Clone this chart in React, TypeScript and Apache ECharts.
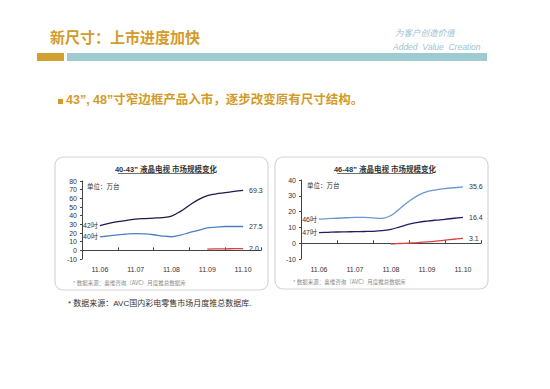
import React, { useEffect, useRef } from "react";
import * as echarts from "echarts";

// ---- data ----
const months = ["11.06", "11.07", "11.08", "11.09", "11.10"];
// weekly sample positions, in months from the left edge of the category axis
const weekPos = [0.5, 0.75, 1.0, 1.25, 1.5, 1.75, 2.0, 2.25, 2.5, 2.75, 3.0, 3.25, 3.5, 3.75, 4.0, 4.25, 4.5];

const s42 = [28.5, 31, 33, 34.5, 36, 36.7, 37.2, 37.8, 39.5, 45, 52, 58.5, 63, 65.2, 66.5, 68, 69.3];
const s40 = [15.5, 16.6, 17.8, 18.8, 19.3, 19, 18, 16.5, 15.7, 17.5, 20.5, 23, 25.8, 26.8, 27.5, 27.5, 27.5];
const s43 = [null, null, null, null, null, null, null, null, null, null, null, null, 1.5, 1.6, 1.7, 1.9, 2.0];

const s46 = [15.2, 15.5, 15.8, 16.1, 16.4, 16.4, 16.0, 15.7, 17.5, 22, 26.5, 30.3, 32.6, 33.8, 34.6, 35.1, 35.6];
const s47 = [6.7, 6.9, 7.1, 7.2, 7.3, 7.4, 7.5, 7.9, 8.8, 10.4, 12.0, 13.2, 14.0, 14.6, 15.1, 15.8, 16.4];
const s48 = [null, null, null, null, null, null, null, null, -0.5, -0.2, 0.1, 0.4, 0.8, 1.3, 1.9, 2.5, 3.1];

const leftTitle = "40-43” 液晶电视 市场规模变化";
const rightTitle = "46-48” 液晶电视 市场规模变化";
const unitText = "单位：万台";
const sourceText = "* 数据来源：奥维咨询（AVC）月度推总数据库";
const footText = "* 数据来源：AVC国内彩电零售市场月度推总数据库.";

const GOLD = "#D39B2A";
const FONT = "'Noto Sans CJK SC', 'Liberation Sans', sans-serif";
const MIXFONT = "'Liberation Sans', 'Noto Sans CJK SC', sans-serif";
const NUMFONT = "'Liberation Sans', 'DejaVu Sans', sans-serif";

function buildPairs(vals: (number | null)[], startLabel?: string) {
  const out: any[] = [];
  vals.forEach((v, i) => {
    if (v === null) return;
    const item: any = { value: [weekPos[i], v] };
    if (startLabel && out.length === 0) {
      item.label = {
        show: true,
        position: "left",
        distance: 2,
        formatter: startLabel,
        fontSize: 7,
        color: "#333",
        fontFamily: MIXFONT,
      };
    }
    out.push(item);
  });
  return out;
}

function lineSeries(name: string, vals: (number | null)[], color: string, xIdx: number, yIdx: number, startLabel?: string) {
  return {
    type: "line",
    name,
    xAxisIndex: xIdx,
    yAxisIndex: yIdx,
    data: buildPairs(vals, startLabel),
    smooth: 0.4,
    symbol: "circle",
    symbolSize: 0,
    showSymbol: true,
    lineStyle: { color, width: 1.3 },
    itemStyle: { color },
    emphasis: { disabled: true },
    endLabel: {
      show: true,
      distance: 6,
      fontSize: 7,
      color: "#333",
      fontFamily: NUMFONT,
      formatter: (p: any) => Number(p.value[1]).toFixed(1),
    },
    z: 3,
  };
}

function catAxis(gridIndex: number) {
  return {
    type: "category",
    gridIndex,
    data: months,
    boundaryGap: true,
    axisLine: { lineStyle: { color: "#444", width: 1 } },
    axisTick: { show: true, inside: true, length: 3, lineStyle: { color: "#444" } },
    axisLabel: { fontSize: 7, color: "#333", margin: 7, fontFamily: NUMFONT },
    splitLine: { show: false },
  };
}

function hiddenAxis(gridIndex: number) {
  return { type: "value", gridIndex, min: 0, max: 5, show: false };
}

function valAxis(gridIndex: number, min: number, max: number) {
  return {
    type: "value",
    gridIndex,
    min,
    max,
    interval: 10,
    axisLine: { show: true, lineStyle: { color: "#444", width: 1 } },
    axisTick: { show: true, length: 2, lineStyle: { color: "#444" } },
    axisLabel: { fontSize: 7, color: "#333", margin: 5, fontFamily: NUMFONT },
    splitLine: { show: false },
  };
}

export default function App() {
  const ref = useRef<HTMLDivElement>(null);
  useEffect(() => {
    if (!ref.current) return;
    const chart = echarts.init(ref.current, null, { renderer: "svg" });
    const option: any = {
      animation: false,
      backgroundColor: "#ffffff",
      grid: [
        { left: 82, top: 181, width: 179, height: 78 },
        { left: 301, top: 180, width: 180, height: 79 },
      ],
      xAxis: [catAxis(0), hiddenAxis(0), catAxis(1), hiddenAxis(1)],
      yAxis: [valAxis(0, -10, 80), valAxis(1, -10, 40)],
      series: [
        lineSeries("42吋", s42, "#1C1C48", 1, 0, "42吋"),
        lineSeries("40吋", s40, "#4E7EC4", 1, 0, "40吋"),
        lineSeries("43吋", s43, "#D9423F", 1, 0),
        lineSeries("46吋", s46, "#6A97D2", 3, 1, "46吋"),
        lineSeries("47吋", s47, "#1E2062", 3, 1, "47吋"),
        lineSeries("48吋", s48, "#D9423F", 3, 1),
      ],
      graphic: [
        // header
        {
          type: "text",
          left: 50,
          top: 29,
          style: { text: "新尺寸：上市进度加快", fontSize: 15, fontWeight: "bold", fill: GOLD, fontFamily: FONT },
        },
        {
          type: "text",
          left: 395,
          top: 28,
          style: { text: "为客户创造价值", fontSize: 8.5, fontStyle: "italic", fill: "#9CC3D1", fontFamily: FONT },
        },
        {
          type: "text",
          left: 393,
          top: 42,
          style: { text: "Added  Value  Creation", fontSize: 8.5, fontStyle: "italic", fill: "#9CC3D1", fontFamily: NUMFONT },
        },
        { type: "rect", shape: { x: 37, y: 53, width: 27, height: 8 }, style: { fill: "#D1A030" } },
        { type: "rect", shape: { x: 67, y: 53, width: 420, height: 8 }, style: { fill: "#9ECBD1" } },
        { type: "rect", shape: { x: 58, y: 99, width: 5, height: 5 }, style: { fill: GOLD } },
        {
          type: "text",
          left: 66,
          top: 94,
          style: {
            text: "43”, 48”寸窄边框产品入市，逐步改变原有尺寸结构。",
            fontSize: 12.5,
            fontWeight: "bold",
            fill: GOLD,
            fontFamily: MIXFONT,
          },
        },
        // boxes
        {
          type: "rect",
          z: -10,
          shape: { x: 55, y: 157, width: 213, height: 133, r: 8 },
          style: { fill: "#fff", stroke: "#d6d6d6", lineWidth: 1.2 },
        },
        {
          type: "rect",
          z: -10,
          shape: { x: 275, y: 157, width: 213, height: 132, r: 8 },
          style: { fill: "#fff", stroke: "#d6d6d6", lineWidth: 1.2 },
        },
        // chart titles
        {
          type: "text",
          x: 166,
          y: 169,
          style: { text: leftTitle, fontSize: 7.5, fontWeight: "bold", fill: "#333", align: "center", verticalAlign: "middle", fontFamily: MIXFONT },
        },
        { type: "line", shape: { x1: 118, y1: 173.5, x2: 214, y2: 173.5 }, style: { stroke: "#333", lineWidth: 0.7 } },
        {
          type: "text",
          x: 385,
          y: 169,
          style: { text: rightTitle, fontSize: 7.5, fontWeight: "bold", fill: "#333", align: "center", verticalAlign: "middle", fontFamily: MIXFONT },
        },
        { type: "line", shape: { x1: 337, y1: 173.5, x2: 433, y2: 173.5 }, style: { stroke: "#333", lineWidth: 0.7 } },
        // units
        {
          type: "text",
          left: 87,
          top: 183,
          style: { text: unitText, fontSize: 6.5, fill: "#333", fontFamily: FONT },
        },
        {
          type: "text",
          left: 307,
          top: 182,
          style: { text: unitText, fontSize: 6.5, fill: "#333", fontFamily: FONT },
        },
        // sources
        {
          type: "text",
          left: 73,
          top: 280,
          style: { text: sourceText, fontSize: 5.5, fill: "#888", fontFamily: FONT },
        },
        {
          type: "text",
          left: 293,
          top: 279,
          style: { text: sourceText, fontSize: 5.5, fill: "#888", fontFamily: FONT },
        },
        {
          type: "text",
          left: 68,
          top: 299,
          style: { text: footText, fontSize: 8, fill: "#333", fontFamily: MIXFONT },
        },
      ],
    };
    chart.setOption(option);
    return () => chart.dispose();
  }, []);
  return (
    <div
      ref={ref}
      style={{ position: "absolute", left: 0, top: 0, width: 550, height: 389, background: "#fff" }}
    />
  );
}
